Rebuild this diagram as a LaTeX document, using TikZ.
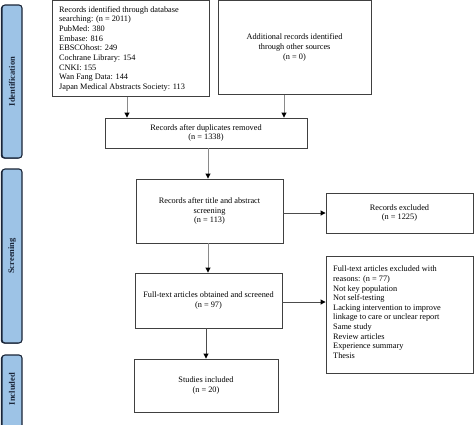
\documentclass[tikz,border=0pt]{standalone}
\usepackage{fontspec}
\setmainfont{Liberation Serif}
\usetikzlibrary{arrows.meta,calc}
\definecolor{tabfill}{HTML}{9DC3E6}
\definecolor{tabline}{HTML}{1A2538}
\definecolor{arrgray}{HTML}{8A8A8A}
\tikzset{
  box/.style={draw=black!75, line width=0.9pt, inner sep=3pt, font=\fontsize{8.3}{9.7}\selectfont, align=center},
  tab/.style={draw=tabline, fill=tabfill, line width=1.1pt, rounded corners=3pt, minimum width=20pt, inner sep=0pt},
  tabshadow/.style={fill=tabline, rounded corners=3pt, minimum width=20pt, inner sep=0pt},
  tabtext/.style={rotate=90, text=tabline, font=\fontsize{8.5}{9}\selectfont\bfseries},
  arr/.style={draw=arrgray, line width=0.9pt, -{Triangle[black,width=5pt,length=5pt]}},
}
\begin{document}
\begin{tikzpicture}[x=1pt,y=1pt]
\useasboundingbox (0,0) rectangle (474,-424);
% phase tabs
\node[tabshadow, minimum height=153pt] (tids) at (10.8,-82) {};
\node[tab, minimum height=153pt] (tid) at (12,-81.5) {};
\node[tabtext] (tidl) at (tid.center) {Identification};
\node[tabshadow, minimum height=174pt] (tscs) at (10.8,-256.5) {};
\node[tab, minimum height=174pt] (tsc) at (12,-256) {};
\node[tabtext] (tscl) at (tsc.center) {Screening};
\node[tabshadow, minimum height=76pt] (tins) at (10.8,-393.5) {};
\node[tab, minimum height=76pt] (tin) at (12,-393) {};
\node[tabtext] (tinl) at (12,-389) {Included};
% boxes
\node[box, minimum width=157pt, minimum height=96pt] (b1) at (130.5,-48.5) {};
\node[anchor=north west, align=left, inner sep=0pt, font=\fontsize{8.3}{9.7}\selectfont] (b1t) at (59,-6) {Records identified through database\\searching: (n = 2011)\\PubMed: 380\\Embase: 816\\EBSCOhost: 249\\Cochrane Library: 154\\CNKI: 155\\Wan Fang Data: 144\\Japan Medical Abstracts Society: 113};
\node[box, minimum width=153pt, minimum height=94pt] (b2) at (294.5,-47.5) {Additional records identified\\through other sources\\(n = 0)};
\node[box, minimum width=202pt, minimum height=30pt] (b3) at (206,-133) {Records after duplicates removed\\(n = 1338)};
\node[box, minimum width=147pt, minimum height=64pt] (b4) at (209.5,-211) {Records after title and abstract\\screening\\(n = 113)};
\node[box, minimum width=147pt, minimum height=40pt] (b5) at (399.5,-213) {Records excluded\\(n = 1225)};
\node[box, minimum width=147pt, minimum height=55pt] (b6) at (208.5,-300.5) {Full-text articles obtained and screened\\(n = 97)};
\node[box, minimum width=147pt, minimum height=117pt] (b7) at (399.5,-314.5) {};
\node[anchor=north west, align=left, inner sep=0pt, font=\fontsize{8.3}{9.6}\selectfont] (b7t) at (333,-266) {Full-text articles excluded with\\reasons: (n = 77)\\Not key population\\Not self-testing\\Lacking intervention to improve\\linkage to care or unclear report\\Same study\\Review articles\\Experience summary\\Thesis};
\node[box, minimum width=144pt, minimum height=53pt] (b8) at (206,-385.5) {Studies included\\(n = 20)};
% arrows
\coordinate (x1) at (127,0);
\coordinate (x2) at (284,0);
\coordinate (x3) at (208,0);
\coordinate (x4) at (206,0);
\coordinate (y1) at (0,-213);
\coordinate (y2) at (0,-302);
\draw[arr] (b1.south -| x1) -- (b3.north -| x1);
\draw[arr] (b2.south -| x2) -- (b3.north -| x2);
\draw[arr] (b3.south -| x3) -- (b4.north -| x3);
\draw[arr, draw=black!70] (b4.east |- y1) -- (b5.west |- y1);
\draw[arr] (b4.south -| x3) -- (b6.north -| x3);
\draw[arr, draw=black!70] (b6.east |- y2) -- (b7.west |- y2);
\draw[arr, draw=black!70] (b6.south -| x4) -- (b8.north -| x4);
\end{tikzpicture}
\end{document}
